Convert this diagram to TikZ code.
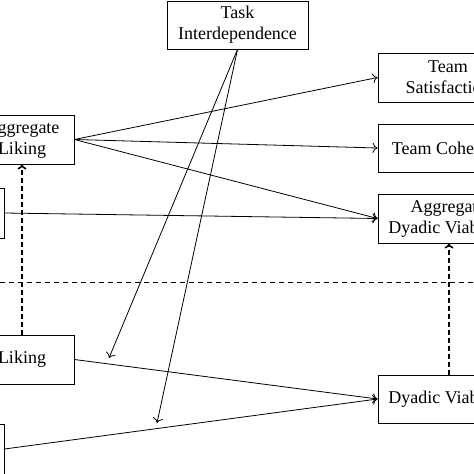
\documentclass[tikz,border=0pt]{standalone}
\usepackage{fontspec}
\setmainfont{Liberation Serif}
\usepackage{tikz}
\usetikzlibrary{arrows.meta}

\begin{document}
\begin{tikzpicture}[x=1pt, y=-1pt, >={To[length=5pt,width=10pt]},
  every node/.style={font=\fontsize{18}{21}\selectfont},
  box/.style={draw, line width=0.9pt, align=center, inner sep=0pt, minimum height=49pt},
  path/.style={->, line width=0.8pt},
  link/.style={-{To[length=5pt,width=9pt]}, line width=1.6pt, dash pattern=on 5pt off 3pt}]
\useasboundingbox (0,0) rectangle (474,474);
\clip (0,0) rectangle (474,474);
% upper (team) level
\node[box, minimum width=141pt, minimum height=48pt] (tinter) at (237.5,25) {Task\\Interdependence};
\node[box, minimum width=104pt] (agglike) at (22,139.5) {Aggregate\\Liking};
\node[box, minimum width=104pt, minimum height=50pt] (lefta) at (-48,213) {};
\node[box, minimum width=140pt] (teamsat) at (448,77.5) {Team\\Satisfaction};
\node[box, minimum width=140pt, minimum height=48pt] (teamcoh) at (448,148) {Team Cohesion};
\node[box, minimum width=140pt] (aggdv) at (448,218.5) {Aggregate\\Dyadic Viability};
% lower (dyad) level
\node[box, minimum width=104pt] (liking) at (22,359.5) {Liking};
\node[box, minimum width=104pt, minimum height=50pt] (leftb) at (-48,449) {};
\node[box, minimum width=140pt, minimum height=48pt] (dv) at (448,399) {Dyadic Viability};
\coordinate (m1) at (109,358);
\coordinate (m2) at (157,423);
% level divider
\draw[line width=1pt, dash pattern=on 5pt off 4pt] (0,282) -- (474,282);
\draw[path] (agglike.east) -- (teamsat.west);
\draw[path] (agglike.east) -- (teamcoh.west);
\draw[path] (agglike.east) -- (aggdv.west);
\draw[path] (lefta.east) -- (aggdv.west);
\draw[path] (liking.east) -- (dv.west);
\draw[path] (leftb.east) -- (dv.west);
\draw[path] (tinter.south) -- (m1);
\draw[path] (tinter.south) -- (m2);
\draw[link] (liking.north) -- (agglike.south);
\draw[link] ([xshift=1pt]dv.north) -- ([xshift=1pt]aggdv.south);
\end{tikzpicture}
\end{document}
